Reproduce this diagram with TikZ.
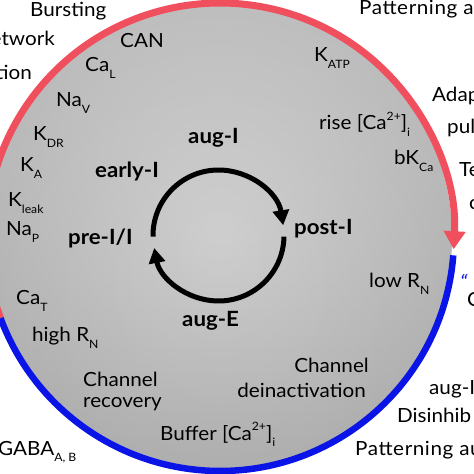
\documentclass[tikz,border=0pt]{standalone}
\usepackage{fontspec}
\setmainfont{Lato}[FakeStretch=1.06]
\usetikzlibrary{arrows.meta}
\definecolor{arcred}{HTML}{F0505E}
\definecolor{arcblue}{HTML}{0A14E6}
\definecolor{disktop}{HTML}{C6C6C6}
\definecolor{diskmid}{HTML}{D2D2D2}
\definecolor{diskbot}{HTML}{A2A2A2}
\definecolor{diskin}{HTML}{E4E4E4}
\definecolor{diskout}{HTML}{B8B8B8}
\newcommand\mysub[1]{\raisebox{-0.33em}{\fontsize{11.5}{12}\selectfont #1}}
\newcommand\mysup[1]{\raisebox{0.5em}{\fontsize{11.5}{12}\selectfont #1}}
\begin{document}
\begin{tikzpicture}[x=1pt,y=1pt,
  lbl/.style={inner sep=0pt, font=\fontsize{19.5}{21}\selectfont, anchor=base west},
  lble/.style={lbl, anchor=base east},
  wide/.style={lbl, font=\fontsize{19.5}{21}\selectfont\addfontfeatures{LetterSpace=3}},
  phase/.style={inner sep=0pt, font=\fontsize{21}{23}\selectfont\bfseries, anchor=base west},
  bigarc/.style={line width=7pt},
  cyc/.style={line width=5pt, -{Triangle[length=15pt,width=16pt]}}]
\useasboundingbox (0,0) rectangle (474,474);
\clip (0,0) rectangle (474,474);
\coordinate (C) at (220,237);
\coordinate (c) at (218.5,238.5);
% disk
\shade[top color=disktop, middle color=diskmid, bottom color=diskbot] (C) circle (232);
\shade[inner color=diskin, outer color=diskout, opacity=0.55] (C) circle (232);
% big arcs
\draw[arcred, bigarc, -{Triangle[length=18pt,width=21pt]}] ([shift={(200.3:234)}]C) arc[start angle=200.3, end angle=-3, radius=234];
\draw[arcblue, line width=6.5pt] ([shift={(-4.5:234)}]C) arc[start angle=-4.5, end angle=-159.7, radius=234];
% cycle
\draw[cyc] ([shift={(181:65.5)}]c) arc[start angle=181, end angle=9, radius=65.5];
\draw[cyc] ([shift={(-1:65.5)}]c) arc[start angle=-1, end angle=-169, radius=65.5];
% phases
\node[phase] (augI) at (188,330) {aug-I};
\node[phase] (early) at (95,296) {early-I};
\node[phase] (pre) at (68,229) {pre-I/I};
\node[phase] (post) at (294,239) {post-I};
\node[phase] (augE) at (182,147) {aug-E};
% inner labels
\node[lbl] (can) at (120,426) {CAN};
\node[lbl] (cal) at (85,402) {Ca\mysub{L}};
\node[lbl] (nav) at (56,367) {Na\mysub{V}};
\node[lbl] (kdr) at (33,333) {K\mysub{DR}};
\node[lbl] (ka) at (20,302) {K\mysub{A}};
\node[lbl] (kleak) at (8,267) {K\mysub{leak}};
\node[lbl] (nap) at (6,238) {Na\mysub{P}};
\node[lbl] (cat) at (16,169) {Ca\mysub{T}};
\node[lbl] (highrn) at (32,132) {high R\mysub{N}};
\node[lbl] (chrec1) at (83,87) {Channel};
\node[lbl] (chrec2) at (83,66) {recovery};
\node[lbl] (buffer) at (160,34) {Buffer [Ca\mysup{2+}]\mysub{i}};
\node[lble] (chdea1) at (369,101) {Channel};
\node[lble] (chdea2) at (366,76) {deinactivation};
\node[lbl] (lowrn) at (369,186) {low R\mysub{N}};
\node[lbl] (katp) at (314,412) {K\mysub{ATP}};
\node[lbl] (rise) at (319,344) {rise [Ca\mysup{2+}]\mysub{i}};
\node[lbl] (bkca) at (394,309) {bK\mysub{Ca}};
% outer labels
\node[lbl] (burst) at (30,457) {Bursting};
\node[lble] (netw) at (55,428) {etwork};
\node[lble] (tion) at (32,394) {tion};
\node[wide] (patt1) at (359,459) {Patterning a};
\node[lbl] (adap) at (432,372) {Adap};
\node[lbl] (pul) at (447,340) {pul};
\node[lbl] (te) at (459,297) {Te};
\node[lbl] (cc) at (469,264) {c};
\node[lbl, text=arcblue, font=\fontsize{20}{21}\selectfont\itshape] (quote) at (460,184) {“};
\node[lbl] (cbig) at (467,167) {C};
\node[lbl] (augI2) at (429,79) {aug-I};
\node[lbl] (disinh) at (397,51) {Disinhib};
\node[wide] (patt2) at (355,19) {Patterning au};
\node[lbl] (gaba) at (-2,19) {GABA\mysub{A, B}};
\end{tikzpicture}
\end{document}
